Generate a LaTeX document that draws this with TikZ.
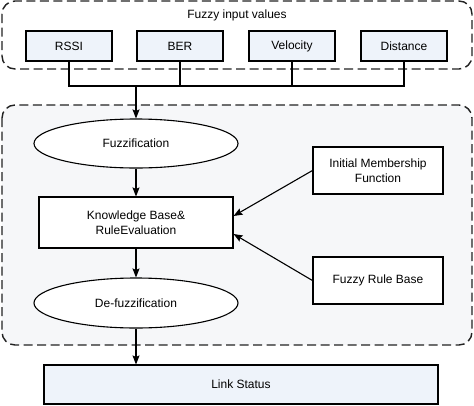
\documentclass[tikz,border=0pt]{standalone}
\usepackage{fontspec}
\setmainfont{Liberation Sans}
\usetikzlibrary{arrows.meta,shapes.geometric}
\definecolor{inputfill}{HTML}{EEF3FA}
\definecolor{panelfill}{HTML}{F6F7F9}
\definecolor{dashgray}{HTML}{222222}
\tikzset{
  panel/.style={draw=dashgray,line width=1.4pt,dash pattern=on 9pt off 4.5pt,rounded corners=13pt},
  inbox/.style={draw,line width=1.1pt,fill=inputfill,minimum width=86pt,minimum height=30pt,inner sep=0pt},
  procbox/.style={draw,line width=1.1pt,fill=white,align=center,inner sep=0pt},
  procell/.style={draw,line width=1.1pt,fill=white,ellipse,minimum width=204pt,minimum height=49pt,inner sep=0pt},
  link/.style={line width=1.1pt},
  arr/.style={line width=1.1pt,-{Stealth[length=9pt,width=7pt,inset=1.5pt]}},
  lbl/.style={font=\fontsize{12}{14.5}\selectfont}
}
\begin{document}
\begin{tikzpicture}[x=1pt,y=-1pt,every node/.style={lbl}]
\useasboundingbox (0,0) rectangle (474,405);
% panels
\draw[panel,fill=white] (2,1) rectangle (472,69);
\draw[panel,fill=panelfill] (2,105) rectangle (472,345);
\node[lbl] (title) at (237,15) {Fuzzy input values};
% inputs
\node[inbox] (rssi) at (69,46) {RSSI};
\node[inbox] (ber) at (180,46) {BER};
\node[inbox] (vel) at (292,46) {Velocity};
\node[inbox] (dist) at (404,46) {Distance};
\coordinate (j) at (136,86);
\draw[link] (rssi.south) |- (j);
\draw[link] (ber.south) |- (j);
\draw[link] (vel.south) |- (j);
\draw[link] (dist.south) |- (j);
% process
\node[procell] (fuz) at (136,143.5) {Fuzzification};
\node[procbox,minimum width=194pt,minimum height=51pt] (kb) at (136,222.5) {Knowledge Base\&\\RuleEvaluation};
\node[procbox,minimum width=130pt,minimum height=47pt] (imf) at (378,170.5) {Initial Membership\\Function};
\node[procbox,minimum width=130pt,minimum height=47pt] (frb) at (378,280.5) {Fuzzy Rule Base};
\node[procell,minimum height=50pt] (defuz) at (136,303) {De-fuzzification};
\node[draw,line width=1.1pt,fill=inputfill,minimum width=394pt,minimum height=39pt,inner sep=0pt] (ls) at (241,384.5) {Link Status};
% arrows
\draw[arr] (j) -- (fuz.north);
\draw[arr] (fuz.south) -- (kb.north);
\draw[arr] (kb.south) -- (defuz.north);
\draw[arr] (defuz.south) -- (ls.north -| defuz.south);
\draw[arr] (imf.west) -- (kb.east |- 0,216);
\draw[arr] (frb.west) -- (kb.east |- 0,234);
\end{tikzpicture}
\end{document}
